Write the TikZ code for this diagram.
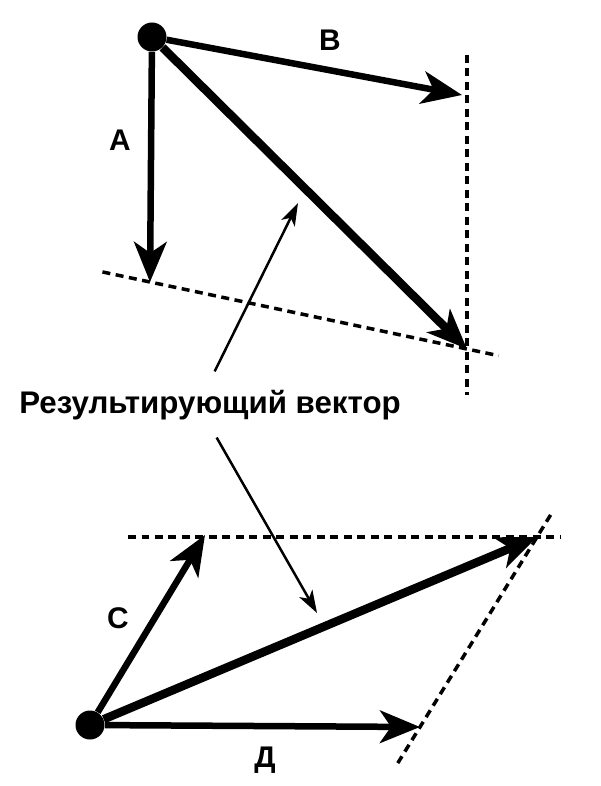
\documentclass[tikz,border=0pt]{standalone}
\usepackage{fontspec}
\setmainfont{Liberation Sans}
\usepackage{tikz}
\usetikzlibrary{arrows.meta,calc}

\begin{document}
\begin{tikzpicture}[x=0.02cm,y=-0.02cm,
    dot/.style={circle,fill=black,inner sep=0pt,minimum size=0.58cm},
    vec/.style={line width=1.3mm,-{Stealth[length=8mm,width=6.5mm,inset=2.2mm]}},
    resvec/.style={vec,line width=1.7mm},
    guide/.style={line width=0.7mm,dash pattern=on 1.6mm off 1.1mm},
    pointer/.style={line width=0.5mm,-{Stealth[length=4.5mm,width=3mm,inset=1.2mm]},shorten <=0.75cm},
    lbl/.style={font=\fontsize{17}{20}\selectfont\bfseries}]
    \useasboundingbox (0,0) rectangle (600,786);
    % upper figure
    \node[dot] (O1) at (152,37) {};
    \coordinate (Atip) at (150,282);
    \coordinate (Btip) at (462,95);
    \coordinate (Rtip) at (467,349);
    \draw[guide] ($(Atip)!-0.15!(Rtip)$) -- ($(Atip)!1.1!(Rtip)$);
    \draw[guide] (Rtip |- 0,55) -- (Rtip |- 0,395);
    \draw[vec] (O1) -- (Atip);
    \draw[vec] (O1) -- (Btip);
    \draw[resvec] (O1) -- (Rtip);
    \node[lbl] (A) at (120,140) {A};
    \node[lbl] (B) at (330,40) {B};
    % caption with pointers
    \node[font=\fontsize{17.8}{21}\selectfont\bfseries] (res) at (210,405) {Результирующий вектор};
    \coordinate (p1) at (298,203);
    \coordinate (p2) at (317,613);
    \draw[pointer] ([xshift=-0.24cm]res.center) -- (p1);
    \draw[pointer] ([xshift=-0.24cm]res.center) -- (p2);
    % lower figure
    \node[dot] (O2) at (90,725) {};
    \coordinate (Ctip) at (205,535);
    \coordinate (Dtip) at (420,727);
    \coordinate (R2tip) at (537,537);
    \draw[guide] (128,537) -- (560,537);
    \draw[guide] ($(Dtip)!-0.19!(R2tip)$) -- ($(Dtip)!1.12!(R2tip)$);
    \draw[vec] (O2) -- (Ctip);
    \draw[vec] (O2) -- (Dtip);
    \draw[resvec] (O2) -- (R2tip);
    \node[lbl] (C) at (118,618) {C};
    \node[lbl] (D) at (265,760) {Д};
\end{tikzpicture}
\end{document}
